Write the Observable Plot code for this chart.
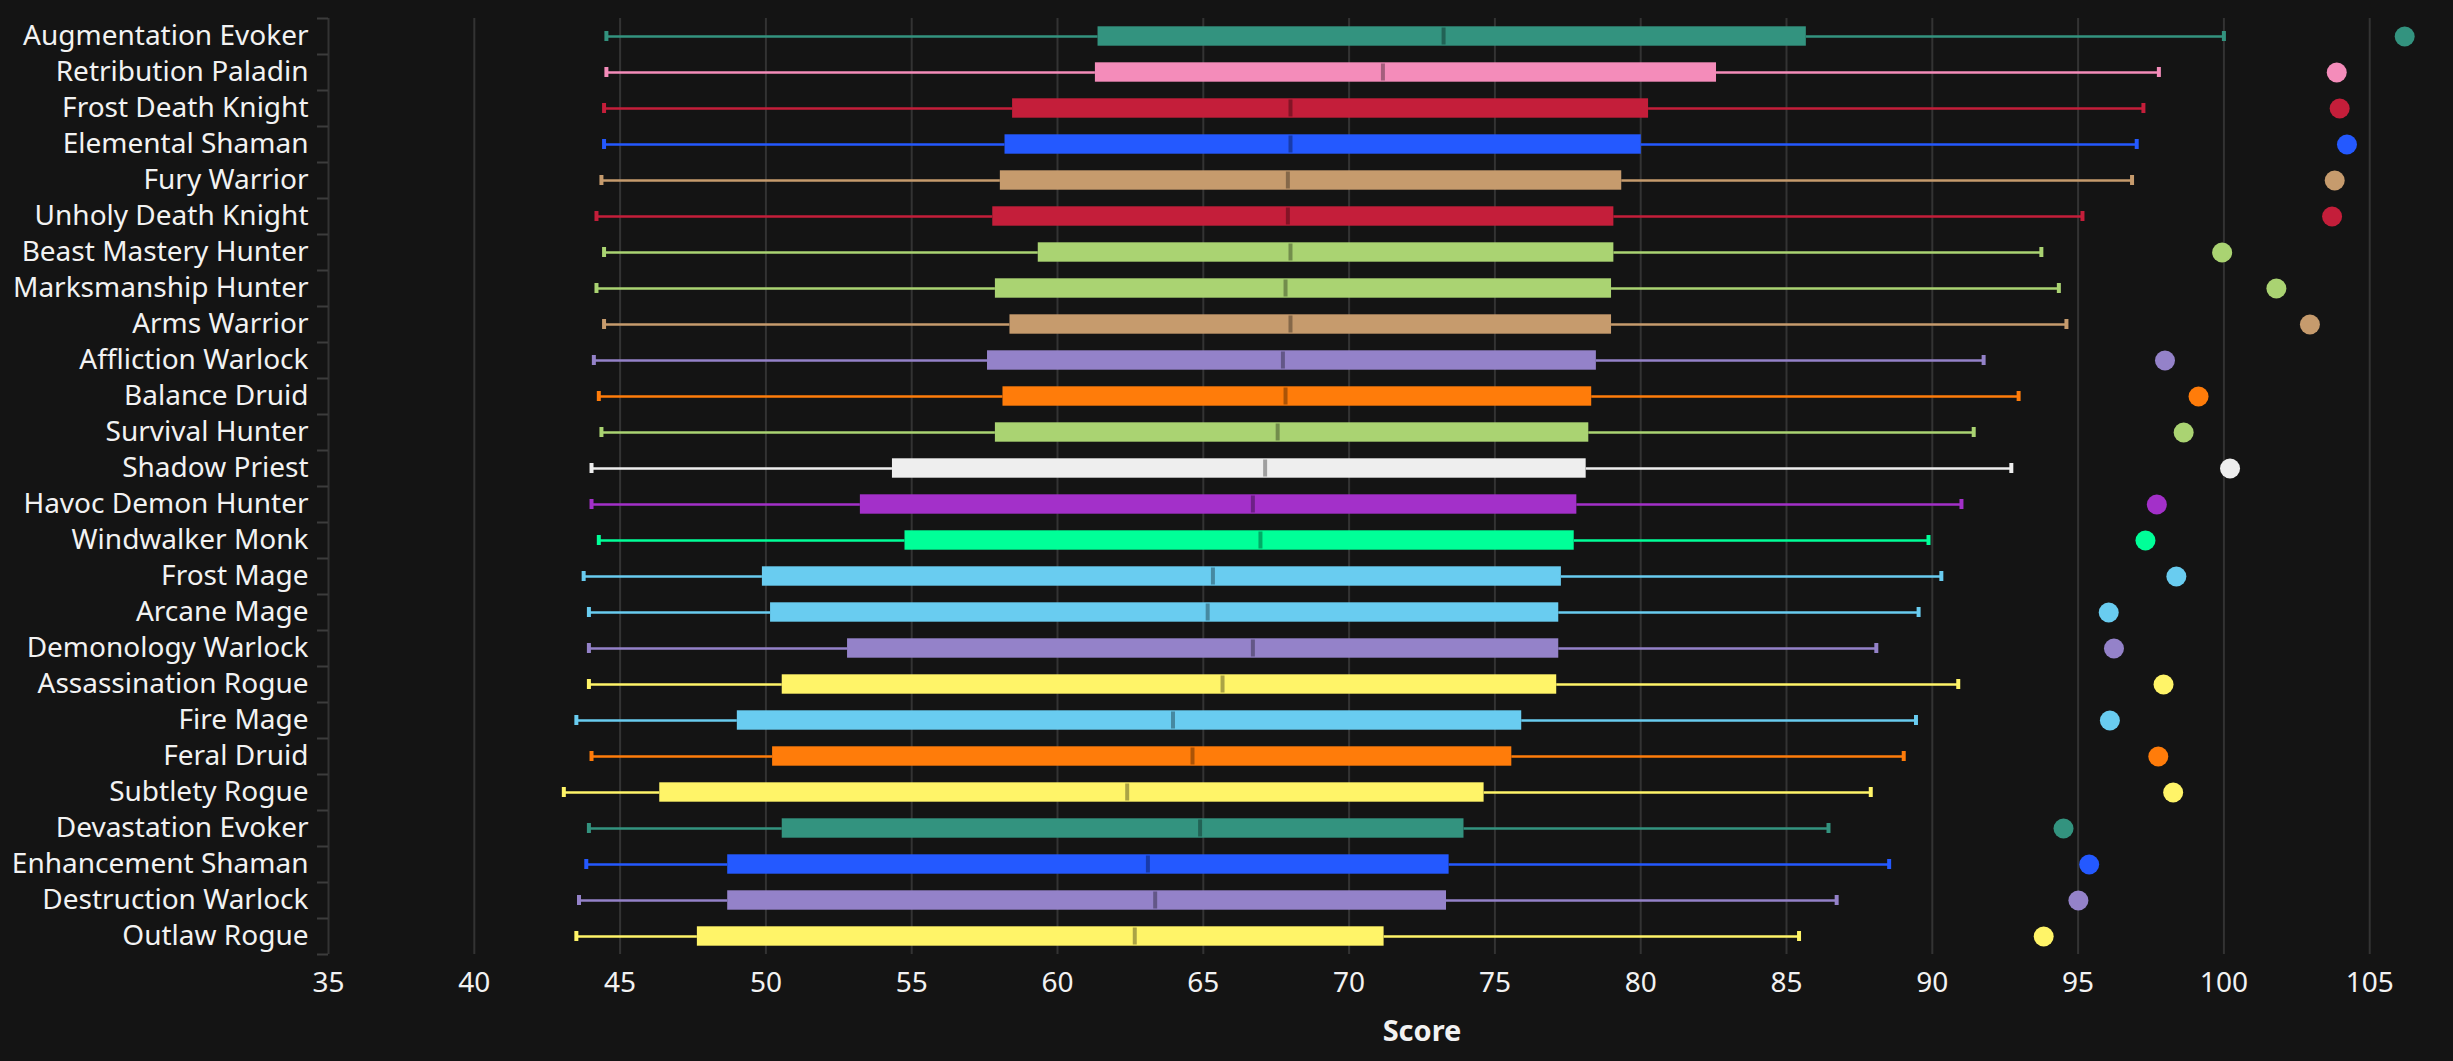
<!DOCTYPE html>
<html>
<head>
<meta charset="utf-8">
<script src="https://cdn.jsdelivr.net/npm/d3@7"></script>
<script src="https://cdn.jsdelivr.net/npm/@observablehq/plot@0.6"></script>
<style>
  html, body { margin: 0; padding: 0; background: #141414; overflow: hidden; }
  #chart { width: 2453px; height: 1061px; }
</style>
</head>
<body>
<div id="chart"></div>
<script>
const specs = [
  "Augmentation Evoker", "Retribution Paladin", "Frost Death Knight", "Elemental Shaman",
  "Fury Warrior", "Unholy Death Knight", "Beast Mastery Hunter", "Marksmanship Hunter",
  "Arms Warrior", "Affliction Warlock", "Balance Druid", "Survival Hunter",
  "Shadow Priest", "Havoc Demon Hunter", "Windwalker Monk", "Frost Mage",
  "Arcane Mage", "Demonology Warlock", "Assassination Rogue", "Fire Mage",
  "Feral Druid", "Subtlety Rogue", "Devastation Evoker", "Enhancement Shaman",
  "Destruction Warlock", "Outlaw Rogue"
];
const colors = [
  "#33937F", "#F48CBA", "#C41E3A", "#2459FF",
  "#C69B6D", "#C41E3A", "#AAD372", "#AAD372",
  "#C69B6D", "#9482C9", "#FF7C0A", "#AAD372",
  "#EEEEEE", "#A330C9", "#00FF98", "#69CCF0",
  "#69CCF0", "#9482C9", "#FFF468", "#69CCF0",
  "#FF7C0A", "#FFF468", "#33937F", "#2459FF",
  "#9482C9", "#FFF468"
];
const mins = [
  44.53, 44.53, 44.45, 44.45, 44.36, 44.19, 44.45, 44.19, 44.45, 44.10,
  44.27, 44.36, 44.02, 44.02, 44.27, 43.75, 43.93, 43.93, 43.93, 43.50,
  44.02, 43.07, 43.93, 43.84, 43.59, 43.50
];
const q1s = [
  61.39, 61.30, 58.46, 58.20, 58.04, 57.78, 59.34, 57.87, 58.37, 57.60,
  58.13, 57.87, 54.34, 53.24, 54.77, 49.88, 50.16, 52.80, 50.56, 49.02,
  50.23, 46.36, 50.56, 48.69, 48.69, 47.65
];
const medians = [
  73.24, 71.16, 67.99, 67.99, 67.90, 67.90, 67.99, 67.82, 67.99, 67.73,
  67.82, 67.55, 67.12, 66.70, 66.96, 65.33, 65.15, 66.70, 65.66, 63.96,
  64.63, 62.39, 64.89, 63.10, 63.35, 62.65
];
const q3s = [
  85.68, 82.60, 80.27, 80.02, 79.35, 79.08, 79.08, 79.00, 79.00, 78.48,
  78.32, 78.22, 78.13, 77.81, 77.72, 77.28, 77.19, 77.19, 77.12, 75.92,
  75.58, 74.63, 73.94, 73.43, 73.34, 71.20
];
const maxs = [
  100.00, 97.77, 97.24, 97.01, 96.85, 95.15, 93.74, 94.34, 94.60, 91.76,
  92.96, 91.42, 92.71, 91.00, 89.87, 90.31, 89.53, 88.08, 90.89, 89.44,
  89.02, 87.89, 86.44, 88.52, 86.72, 85.43
];
const tops = [
  106.20, 103.87, 103.97, 104.22, 103.80, 103.71, 99.94, 101.80, 102.95, 97.98,
  99.13, 98.62, 100.21, 97.70, 97.31, 98.37, 96.05, 96.23, 97.93, 96.09,
  97.75, 98.26, 94.50, 95.38, 95.01, 93.82
];
const xTicks = [35, 40, 45, 50, 55, 60, 65, 70, 75, 80, 85, 90, 95, 100, 105];
const xDomain = [35, 110];
const xLabel = "Score";

const data = specs.map((spec, i) => ({
  spec, color: colors[i], min: mins[i], q1: q1s[i], median: medians[i],
  q3: q3s[i], max: maxs[i], top: tops[i]
}));
const last = [data[data.length - 1]];

const W = 2453, H = 1061;
const chart = Plot.plot({
  width: W,
  height: H,
  marginLeft: 328,
  marginRight: -62,
  marginTop: 18,
  marginBottom: 107,
  style: { background: "#141414", fontFamily: "'Noto Sans', sans-serif", color: "#f2f2f2" },
  x: { domain: xDomain, axis: null },
  y: { domain: specs, padding: 0, axis: null },
  color: { type: "identity" },
  marks: [
    Plot.gridX(xTicks, { stroke: "#333333", strokeOpacity: 1, strokeWidth: 2 }),
    Plot.ruleY(data, { y: "spec", x1: "min", x2: "q1", stroke: "color", strokeWidth: 2.5 }),
    Plot.ruleY(data, { y: "spec", x1: "q3", x2: "max", stroke: "color", strokeWidth: 2.5 }),
    Plot.tickX(data, { y: "spec", x: "min", stroke: "color", strokeWidth: 4, insetTop: 13, insetBottom: 13 }),
    Plot.tickX(data, { y: "spec", x: "max", stroke: "color", strokeWidth: 4, insetTop: 13, insetBottom: 13 }),
    Plot.barX(data, { y: "spec", x1: "q1", x2: "q3", fill: "color", insetTop: 8.3, insetBottom: 8.3 }),
    Plot.tickX(data, { y: "spec", x: "median", stroke: "#000", strokeOpacity: 0.33, strokeWidth: 4, insetTop: 9.5, insetBottom: 9.5 }),
    Plot.dot(data, { y: "spec", x: "top", r: 10, fill: "color", stroke: null }),
    Plot.axisY({ tickSize: 0, tickPadding: 20, fontSize: 28, color: "#f2f2f2", label: null }),
    Plot.axisY({ text: null, tickSize: 11, dy: -18, stroke: "#3c3c3c", strokeWidth: 2, label: null }),
    Plot.axisY(last.map(d => d.spec), { text: null, tickSize: 11, dy: 18, stroke: "#3c3c3c", strokeWidth: 2, label: null }),
    Plot.axisX({ ticks: xTicks, tickSize: 0, tickPadding: 18, fontSize: 28, color: "#f2f2f2", label: null }),
    Plot.text([xLabel], { text: d => d, frameAnchor: "bottom", dy: 86, fontSize: 29, fontWeight: "bold", fill: "#f2f2f2" })
  ]
});
document.getElementById("chart").appendChild(chart);
</script>
</body>
</html>
